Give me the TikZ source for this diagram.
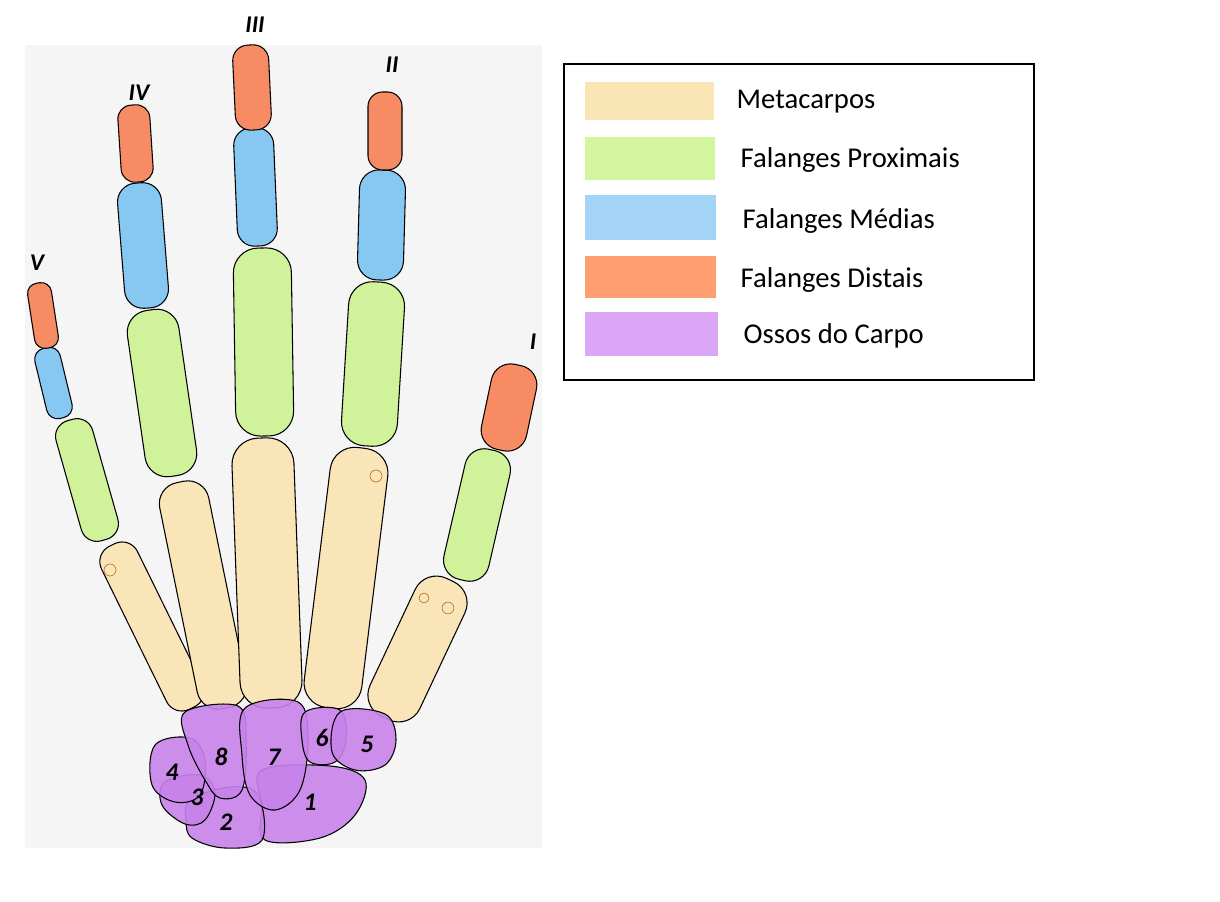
\documentclass[tikz,border=0pt]{standalone}
\usepackage{fontspec}
\setmainfont{Carlito}
\usetikzlibrary{calc}
\definecolor{meta}{RGB}{249,229,183}
\definecolor{prox}{RGB}{208,242,155}
\definecolor{med}{RGB}{135,200,242}
\definecolor{dist}{RGB}{247,140,100}
\definecolor{carp}{RGB}{200,130,235}
\definecolor{lmeta}{RGB}{250,230,180}
\definecolor{lprox}{RGB}{212,245,160}
\definecolor{lmed}{RGB}{163,212,247}
\definecolor{ldist}{RGB}{255,158,110}
\definecolor{lcarp}{RGB}{219,166,245}
\newcommand{\bone}[4]{\draw[bonestyle,fill=#4,rounded corners=#3*0.32pt]
 ($#1!#3*0.375pt!90:#2$) -- ($#2!#3*0.375pt!-90:#1$) -- ($#2!#3*0.375pt!90:#1$) -- ($#1!#3*0.375pt!-90:#2$) -- cycle;}
\tikzset{bonestyle/.style={draw=black,line width=0.8pt},
 carpal/.style={draw=black,line width=0.8pt,fill=carp,fill opacity=0.9},
 numlab/.style={font=\bfseries\itshape\fontsize{19}{19}\selectfont,text opacity=1},
 roman/.style={font=\bfseries\itshape\fontsize{18}{18}\selectfont},
 legtext/.style={anchor=west,font=\fontsize{21.5}{21.5}\selectfont}}
\begin{document}
\begin{tikzpicture}[x=0.75pt,y=-0.75pt]
\useasboundingbox (0,0) rectangle (1220,902);
\fill[white] (0,0) rectangle (1220,902);
\fill[black!4] (25,45) rectangle (542,848);
% metacarpals
\bone{(112,545)}{(192,708)}{40}{meta}
\bone{(180,482)}{(226,708)}{50}{meta}
\bone{(262,438)}{(272,708)}{62}{meta}
\bone{(362,448)}{(330,708)}{58}{meta}
\bone{(450,580)}{(385,718)}{55}{meta}
% proximal
\bone{(70,420)}{(104,540)}{38}{prox}
\bone{(150,310)}{(174,476)}{52}{prox}
\bone{(262,248)}{(265,436)}{58}{prox}
\bone{(378,282)}{(368,446)}{56}{prox}
\bone{(492,450)}{(462,580)}{46}{prox}
% middle
\bone{(45,348)}{(62,418)}{26}{med}
\bone{(138,183)}{(148,308)}{44}{med}
\bone{(253,128)}{(258,246)}{40}{med}
\bone{(383,170)}{(380,280)}{46}{med}
% distal
\bone{(38,283)}{(48,348)}{24}{dist}
\bone{(133,105)}{(138,182)}{32}{dist}
\bone{(250,45)}{(254,130)}{36}{dist}
\bone{(385,92)}{(385,170)}{34}{dist}
\bone{(518,365)}{(500,450)}{46}{dist}
% small circles
\draw[draw=orange!70!black,fill=meta] (110,570) circle (6);
\draw[draw=orange!70!black,fill=meta] (376,476) circle (6);
\draw[draw=orange!70!black,fill=meta] (448,608) circle (6);
\draw[draw=orange!70!black,fill=meta] (424,598) circle (5);
% carpals
\draw[carpal] plot[smooth cycle,tension=0.6] coordinates {(262,770)(330,766)(365,780)(355,815)(320,838)(265,840)(262,805)};
\draw[carpal] plot[smooth cycle,tension=0.6] coordinates {(190,800)(230,787)(258,795)(262,840)(225,848)(192,838)(186,820)};
\draw[carpal] plot[smooth cycle,tension=0.6] coordinates {(165,782)(200,775)(215,792)(205,820)(185,824)(162,805)};
\draw[carpal] plot[smooth cycle,tension=0.6] coordinates {(155,745)(190,738)(205,760)(200,795)(175,802)(152,785)};
\draw[carpal] plot[smooth cycle,tension=0.6] coordinates {(185,712)(238,706)(246,740)(242,790)(220,798)(205,780)(188,745)};
\draw[carpal] plot[smooth cycle,tension=0.6] coordinates {(245,708)(298,702)(308,740)(300,790)(275,810)(250,795)(242,755)};
\draw[carpal] plot[smooth cycle,tension=0.6] coordinates {(305,712)(340,710)(346,740)(335,762)(310,762)(302,740)};
\draw[carpal] plot[smooth cycle,tension=0.6] coordinates {(340,712)(385,714)(396,740)(385,765)(355,770)(332,752)};
\node[numlab] (c4) at (172,772) {4};
\node[numlab] (c8) at (221,757) {8};
\node[numlab] (c7) at (274,757) {7};
\node[numlab] (c6) at (322,738) {6};
\node[numlab] (c5) at (367,744) {5};
\node[numlab] (c3) at (197,797) {3};
\node[numlab] (c2) at (226,822) {2};
\node[numlab] (c1) at (310,802) {1};
\node[roman] (rV) at (37,263) {V};
\node[roman] (rIV) at (139,93) {IV};
\node[roman] (rIII) at (255,25) {III};
\node[roman] (rII) at (392,65) {II};
\node[roman] (rI) at (533,342) {I};
% legend
\draw[line width=2.2pt] (564,64) rectangle (1034,380);
\fill[lmeta] (585,82) rectangle (714,120);
\fill[lprox] (585,137) rectangle (715,180);
\fill[lmed] (585,195) rectangle (716,240);
\fill[ldist] (585,256) rectangle (716,298);
\fill[lcarp] (585,312) rectangle (718,356);
\node[legtext] (l1) at (732,102) {Metacarpos};
\node[legtext] (l2) at (736,160) {Falanges Proximais};
\node[legtext] (l3) at (738,221) {Falanges Médias};
\node[legtext] (l4) at (736,280) {Falanges Distais};
\node[legtext] (l5) at (739,336) {Ossos do Carpo};
\end{tikzpicture}
\end{document}
